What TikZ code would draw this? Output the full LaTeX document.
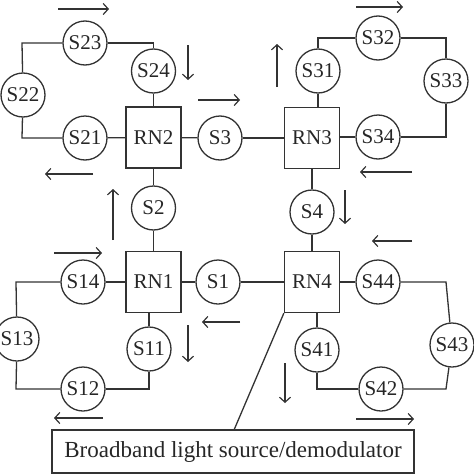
\documentclass[tikz,border=0pt]{standalone}
\usepackage{fontspec}
\setmainfont{Liberation Serif}
\usetikzlibrary{arrows.meta}
\begin{document}
\begin{tikzpicture}[x=1pt,y=-1pt,
  line width=1.3pt, draw=black!80,
  every node/.style={font=\fontsize{21}{24}\selectfont, text=black!85},
  stn/.style={circle, draw=black!80, line width=1.3pt, minimum size=44pt, inner sep=0pt, fill=white},
  rn/.style={rectangle, draw=black!80, line width=1.3pt, minimum width=55pt, minimum height=61pt, inner sep=0pt},
  flow/.style={draw=black!80, line width=1.2pt, -{Straight Barb[length=5pt,width=11pt]}},
  wire/.style={draw=black!80, line width=1.3pt}]
\useasboundingbox (0,0) rectangle (474,474);
% remote nodes
\node[rn] (RN2) at (153.5,137.5) {RN2};
\node[rn] (RN3) at (312,138) {RN3};
\node[rn] (RN1) at (153.5,282) {RN1};
\node[rn] (RN4) at (312,282) {RN4};
% ring 2
\node[stn] (S23) at (85,43) {S23};
\node[stn] (S24) at (153.5,71) {S24};
\node[stn] (S22) at (23,95) {S22};
\node[stn] (S21) at (85,138) {S21};
\node[stn] (S3) at (220,138) {S3};
\node[stn] (S2) at (153.5,208) {S2};
% ring 3
\node[stn] (S32) at (378,38) {S32};
\node[stn] (S31) at (318,71) {S31};
\node[stn] (S33) at (446,81) {S33};
\node[stn] (S34) at (378,137) {S34};
\node[stn] (S4) at (312,212) {S4};
% ring 1
\node[stn] (S14) at (83,282) {S14};
\node[stn] (S1) at (218,282) {S1};
\node[stn] (S13) at (17,339) {S13};
\node[stn] (S11) at (149,349) {S11};
\node[stn] (S12) at (83,389) {S12};
% ring 4
\node[stn] (S44) at (378,282) {S44};
\node[stn] (S43) at (452,345) {S43};
\node[stn] (S41) at (317,350) {S41};
\node[stn] (S42) at (381,389) {S42};
% box
\node[rectangle, draw=black!80, line width=1.3pt, minimum width=362pt, minimum height=43pt, inner sep=0pt, font=\fontsize{23}{26}\selectfont] (BOX) at (233,451.5) {Broadband light source/demodulator};
% corner coordinates
\coordinate (c2a) at (22,43);
\coordinate (c2b) at (22,138);
\coordinate (c2c) at (153.5,43);
\coordinate (c3a) at (318,38);
\coordinate (c3b) at (446,38);
\coordinate (c3c) at (446,137);
\coordinate (c1a) at (16,282);
\coordinate (c1b) at (16,389);
\coordinate (c1c) at (149,389);
\coordinate (c4a) at (446,282);
\coordinate (c4b) at (446,389);
\coordinate (c4c) at (317,389);
\coordinate (bx) at (234,430);
% ring 2 wiring
\draw[wire] (RN2) -- (S21);
\draw[wire] (S21) -- (c2b) -- (S22);
\draw[wire] (S22) -- (c2a) -- (S23);
\draw[wire] (S23) -- (c2c) -- (S24);
\draw[wire] (S24) -- (RN2);
\draw[wire] (RN2) -- (S3);
\draw[wire] (S3) -- (RN3);
\draw[wire] (RN2) -- (S2);
\draw[wire] (S2) -- (RN1);
% ring 3 wiring
\draw[wire] (S31) -- (S31 |- RN3.north);
\draw[wire] (S31) -- (c3a) -- (S32);
\draw[wire] (S32) -- (c3b) -- (S33);
\draw[wire] (S33) -- (c3c) -- (S34);
\draw[wire] (S34) -- (RN3.east |- S34);
\draw[wire] (RN3) -- (S4);
\draw[wire] (S4) -- (RN4);
% ring 1 wiring
\draw[wire] (RN1) -- (S14);
\draw[wire] (S14) -- (c1a) -- (S13);
\draw[wire] (S13) -- (c1b) -- (S12);
\draw[wire] (S12) -- (c1c) -- (S11);
\draw[wire] (S11) -- (S11 |- RN1.south);
\draw[wire] (RN1) -- (S1);
\draw[wire] (S1) -- (RN4);
% ring 4 wiring
\draw[wire] (RN4) -- (S44);
\draw[wire] (S44) -- (c4a) -- (S43);
\draw[wire] (S43) -- (c4b) -- (S42);
\draw[wire] (S42) -- (c4c) -- (S41);
\draw[wire] (S41) -- (S41 |- RN4.south);
% feeder
\draw[wire] (RN4.south west) -- (bx);
% flow arrows
\draw[flow] (58,9) -- (109,9);
\draw[flow] (188,45) -- (188,80);
\draw[flow] (198,100) -- (240,100);
\draw[flow] (93,174) -- (45,174);
\draw[flow] (113,240) -- (113,189);
\draw[flow] (356,7) -- (403,7);
\draw[flow] (277,87) -- (277,44);
\draw[flow] (412,172) -- (360,172);
\draw[flow] (345,190) -- (345,224);
\draw[flow] (54,253) -- (102,253);
\draw[flow] (240,322) -- (202,322);
\draw[flow] (188,325) -- (188,362);
\draw[flow] (103,418) -- (54,418);
\draw[flow] (412,241) -- (372,241);
\draw[flow] (285,363) -- (285,403);
\draw[flow] (356,419) -- (414,419);
\end{tikzpicture}
\end{document}
